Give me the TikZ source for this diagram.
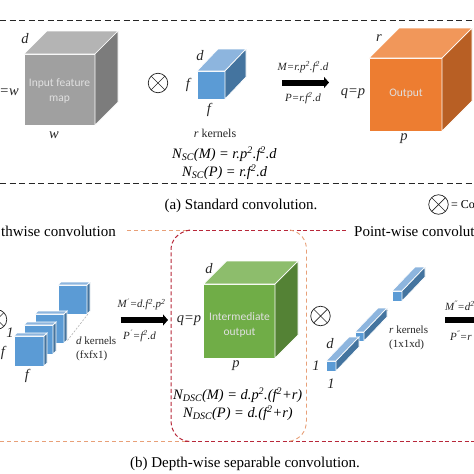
\documentclass[tikz,border=0pt]{standalone}
\usepackage{fontspec}
\setmainfont{Liberation Serif}
\setsansfont{Carlito}
\usetikzlibrary{arrows.meta}
\definecolor{blue1}{HTML}{5B9BD5}
\definecolor{blue2}{HTML}{8DB5DE}
\definecolor{blue3}{HTML}{44749F}
\definecolor{gray1}{HTML}{A0A0A0}
\definecolor{gray2}{HTML}{B4B4B4}
\definecolor{gray3}{HTML}{7C7C7C}
\definecolor{or1}{HTML}{ED7D31}
\definecolor{or2}{HTML}{F1975A}
\definecolor{or3}{HTML}{B85F24}
\definecolor{gr1}{HTML}{70AD47}
\definecolor{gr2}{HTML}{8DBD6C}
\definecolor{gr3}{HTML}{548235}
\definecolor{redd}{HTML}{B8283A}
\definecolor{orng}{HTML}{E8A078}
\newcommand{\cuboid}[8]{% x,y(front top-left), w,h, dx,dy, front, top ; side colour via \sidecol
  \fill[#7,draw=white,line width=.7pt] (#1,#2) rectangle ++(#3,#4);
  \fill[#8,draw=white,line width=.7pt] (#1,#2) -- ++(#5,-#6) -- ++(#3,0) -- ++(-#5,#6) -- cycle;
  \fill[\sidecol,draw=white,line width=.7pt] (#1+#3,#2) -- ++(#5,-#6) -- ++(0,#4) -- ++(-#5,#6) -- cycle;
}
\newcommand{\sidecol}{blue3}
\tikzset{
  lab/.style={font=\itshape\fontsize{14.5}{14.5}\selectfont,inner sep=0pt,text=black!85},
  smalllab/.style={font=\itshape\fontsize{11}{11}\selectfont,inner sep=0pt,text=black!85},
  plain/.style={font=\fontsize{11}{14}\selectfont,inner sep=0pt,align=left,text=black!85},
  captext/.style={font=\fontsize{15}{15}\selectfont,inner sep=0pt},
  eq/.style={font=\itshape\fontsize{14.4}{14.4}\selectfont,inner sep=0pt,anchor=west},
  intext/.style={font=\sffamily\fontsize{11.5}{14.5}\selectfont,text=white!88!black,align=center,inner sep=0pt},
  sep/.style={dash pattern=on 6pt off 3.5pt,line width=1pt,black!85},
  otimes/.style={circle,draw=black!85,line width=.7pt,minimum size=19.5pt,inner sep=0pt,path picture={
     \draw[black!85,line width=.7pt] (path picture bounding box.north west)--(path picture bounding box.south east)
     (path picture bounding box.north east)--(path picture bounding box.south west);}},
  bigarrow/.style={-{Triangle[length=5pt,width=11pt]},line width=6pt,black},
  reddash/.style={draw=redd,line width=1pt,dash pattern=on 4pt off 2.5pt},
  orangedash/.style={draw=orng,line width=.9pt,dash pattern=on 4pt off 3pt},
  kerndash/.style={draw=gray!60,line width=.6pt,dash pattern=on 2pt off 1.5pt}
}
\begin{document}
\begin{tikzpicture}[x=1pt,y=-1pt]
\useasboundingbox (0,0) rectangle (474,474);
\clip (0,0) rectangle (474,474);
\fill[white] (0,0) rectangle (474,474);
% separators
\coordinate (s1a) at (0,20.5); \coordinate (s1b) at (474,20.5);
\coordinate (s2a) at (0,183.5); \coordinate (s2b) at (474,183.5);
\draw[sep] (s1a)--(s1b);
\draw[sep] (s2a)--(s2b);
% input cube
\renewcommand{\sidecol}{gray3}
\cuboid{24}{54}{71}{71}{23}{23}{gray1}{gray2}
\node[intext] (inp) at (59.5,91) {Input feature\\map};
\node[lab] (ld) at (25,39) {d};
\node[lab] (lw) at (54,135) {w};
\node[lab,anchor=east] (lqw) at (19,92) {=w};
\node[otimes] (ot1) at (158,83) {};
% kernel
\renewcommand{\sidecol}{blue3}
\cuboid{197}{71}{28}{28}{21}{22}{blue1}{blue2}
\node[lab] (kd) at (200,56) {d};
\node[lab] (kf1) at (188,85) {f};
\node[lab] (kf2) at (209,110) {f};
\node[font=\fontsize{12}{12}\selectfont,inner sep=0pt,text=black!85] (rk) at (215,133) {\textit{r} kernels};
\node[eq] (e1) at (172,154) {N\textsubscript{SC}(M) = r.p\textsuperscript{2}.f\textsuperscript{2}.d};
\node[eq] (e2) at (182,172) {N\textsubscript{SC}(P) = r.f\textsuperscript{2}.d};
% arrow 1
\coordinate (a1s) at (282,82.5); \coordinate (a1e) at (329,82.5);
\draw[bigarrow] (a1s)--(a1e);
\node[smalllab] (m1) at (303,67) {M=r.p\textsuperscript{2}.f\textsuperscript{2}.d};
\node[smalllab] (p1) at (303,98.5) {P=r.f\textsuperscript{2}.d};
% output
\renewcommand{\sidecol}{or3}
\cuboid{369}{58}{73}{73}{30}{30}{or1}{or2}
\node[intext] (outp) at (406,94) {Output};
\node[lab] (lr) at (379,38) {r};
\node[lab] (lp) at (404,139) {p};
\node[lab] (lq) at (353,94) {q=p};
% caption a
\node[captext] (capa) at (241,206) {(a) Standard convolution.};
\node[otimes] (ot2) at (438.5,204.5) {};
\node[font=\fontsize{12}{12}\selectfont,inner sep=0pt,anchor=west] (leg) at (451,205) {= Co};
% sub headings
\node[captext,anchor=east] (h1) at (116,231.5) {thwise convolution};
\node[captext,anchor=west] (h2) at (354,231.5) {Point-wise convolution};
\coordinate (ol1) at (127,230); \coordinate (ol2) at (186,230);
\draw[orangedash] (ol1)--(ol2);
\coordinate (rl1) at (186,230); \coordinate (rl2) at (346,230);
\draw[reddash] (rl1)--(rl2);
% bottom long line
\coordinate (bl1) at (0,441.5); \coordinate (bl2) at (474,441.5);
\draw[orangedash] (bl1)--(185,441.5);
\draw[reddash] (185,441.5)--(bl2);
% rounded frame
\draw[orangedash] (290,230) .. controls (301,232) and (306.5,240) .. (306.5,250) -- (306.5,420) .. controls (306.5,432) and (300,440) .. (288,441.5);
\draw[reddash] (190,230) .. controls (178,232) and (171,240) .. (171,250) -- (171,420) .. controls (171,432) and (178,441) .. (190,441.5);
% depthwise kernels
\renewcommand{\sidecol}{blue3}
\cuboid{58}{285}{29}{29}{3}{3}{blue1}{blue2}
\coordinate (dk1) at (88,314); \coordinate (dk2) at (67,341);
\draw[kerndash] (dk1)--(dk2);
\cuboid{35}{314}{29}{29}{3}{3}{blue1}{blue2}
\cuboid{24}{325}{29}{29}{3}{3}{blue1}{blue2}
\cuboid{14}{336}{30}{30}{3}{3}{blue1}{blue2}
\node[lab] (l1a) at (10,333) {1};
\node[lab] (f1a) at (3,353) {f};
\node[lab] (f1b) at (27,376) {f};
\node[plain,anchor=north west] (dk) at (76,337) {\textit{d} kernels\\(fxfx1)};
% arrow 2
\coordinate (a2s) at (120.5,320); \coordinate (a2e) at (168,320);
\draw[bigarrow] (a2s)--(a2e);
\node[smalllab] (m2) at (141.5,304.5) {M\textsuperscript{´}=d.f\textsuperscript{2}.p\textsuperscript{2}};
\node[smalllab] (p2) at (139.5,336) {P\textsuperscript{´}=f\textsuperscript{2}.d};
% intermediate
\renewcommand{\sidecol}{gr3}
\cuboid{203.5}{284}{71.5}{74}{23}{23}{gr1}{gr2}
\node[intext] (mid) at (239.5,325) {Intermediate\\output};
\node[lab] (idd) at (209,269) {d};
\node[lab] (ipp) at (236,366) {p};
\node[lab] (iq) at (189,321) {q=p};
\node[eq] (e3) at (173,395) {N\textsubscript{DSC}(M) = d.p\textsuperscript{2}.(f\textsuperscript{2}+r)};
\node[eq] (e4) at (183,413) {N\textsubscript{DSC}(P) = d.(f\textsuperscript{2}+r)};
% pointwise
\node[otimes] (ot3) at (320.5,316) {};
\renewcommand{\sidecol}{blue3}
\cuboid{392}{291}{10}{10}{23}{24}{blue1}{blue2}
\coordinate (pk1) at (388,310); \coordinate (pk2) at (372,326);
\draw[kerndash] (pk1)--(pk2);
\cuboid{355}{332}{9}{9}{23}{24}{blue1}{blue2}
\cuboid{326}{361}{10}{10}{23}{24}{blue1}{blue2}
\node[lab] (pd) at (330,344) {d};
\node[lab] (p1l) at (316,366) {1};
\node[lab] (p1b) at (331,384) {1};
\node[plain,anchor=north west] (rk2) at (389,326) {\textit{r} kernels\\(1x1xd)};
% arrow 3
\coordinate (a3s) at (445,320); \coordinate (a3e) at (490,320);
\draw[line width=6pt,black] (a3s)--(a3e);
\node[smalllab,anchor=west] (m3) at (445,305.5) {M\textsuperscript{˝}=d\textsuperscript{2}};
\node[smalllab,anchor=west] (p3) at (450,335.5) {P\textsuperscript{˝}=r};
% caption b
\node[captext] (capb) at (245,464) {(b) Depth-wise separable convolution.};
% cropped circle at left
\node[otimes] (ot0) at (-3,319.5) {};
\end{tikzpicture}
\end{document}
